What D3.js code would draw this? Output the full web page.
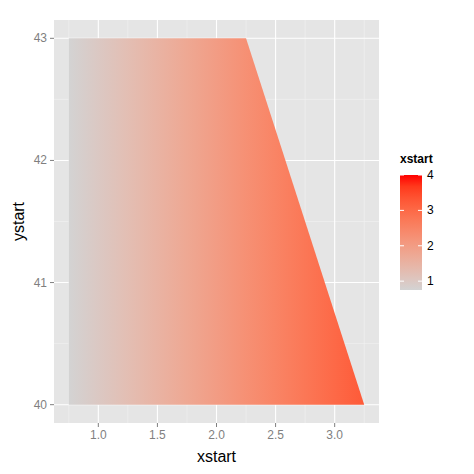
<!DOCTYPE html><html><head><script src="https://d3js.org/d3.v7.min.js"></script>
<style>body{margin:0;background:#fff}text{font-family:"Liberation Sans",Arial,sans-serif}</style></head><body>
<svg id="c" width="474" height="474"></svg>
<script>
const polyX=[0.75,2.25,3.25,0.75];
const polyY=[43,43,40,40];
const xTicks=[1.0,1.5,2.0,2.5,3.0];
const yTicks=[40,41,42,43];
const legendTicks=[1,2,3,4];
const colorDomain=[0.75,4];
const svg=d3.select("#c");
const L=54,R=379,T=20,B=423;
const x=d3.scaleLinear().domain([0.625,3.375]).range([L,R]);
const y=d3.scaleLinear().domain([39.85,43.15]).range([B,T]);
const col=d3.scaleLinear().domain(colorDomain).range(["#d3d3d3","#ff0000"]).interpolate(d3.interpolateLab);
svg.append("rect").attr("x",L).attr("y",T).attr("width",R-L).attr("height",B-T).attr("fill","#e5e5e5");
const minX=[0.75,1.25,1.75,2.25,2.75,3.25],minY=[40.5,41.5,42.5];
minX.forEach(v=>svg.append("line").attr("x1",x(v)).attr("x2",x(v)).attr("y1",T).attr("y2",B).attr("stroke","#f2f2f2").attr("stroke-width",0.6));
minY.forEach(v=>svg.append("line").attr("y1",y(v)).attr("y2",y(v)).attr("x1",L).attr("x2",R).attr("stroke","#f2f2f2").attr("stroke-width",0.6));
xTicks.forEach(v=>svg.append("line").attr("x1",x(v)).attr("x2",x(v)).attr("y1",T).attr("y2",B).attr("stroke","#fff").attr("stroke-width",1.1));
yTicks.forEach(v=>svg.append("line").attr("y1",y(v)).attr("y2",y(v)).attr("x1",L).attr("x2",R).attr("stroke","#fff").attr("stroke-width",1.1));
const defs=svg.append("defs");
const g=defs.append("linearGradient").attr("id","pg").attr("gradientUnits","userSpaceOnUse")
 .attr("x1",x(0.75)).attr("x2",x(3.25)).attr("y1",0).attr("y2",0);
d3.range(0,1.001,0.1).forEach(t=>g.append("stop").attr("offset",t).attr("stop-color",col(0.75+t*2.5)));
svg.append("path").attr("d",d3.line()(polyX.map((v,i)=>[x(v),y(polyY[i])]))+"Z").attr("fill","url(#pg)");
xTicks.forEach(v=>{svg.append("line").attr("x1",x(v)).attr("x2",x(v)).attr("y1",B).attr("y2",B+4).attr("stroke","#7f7f7f");
 svg.append("text").attr("x",x(v)).attr("y",B+16).attr("text-anchor","middle").attr("font-size",12).attr("fill","#7f7f7f").text(v.toFixed(1));});
yTicks.forEach(v=>{svg.append("line").attr("x1",L-4).attr("x2",L).attr("y1",y(v)).attr("y2",y(v)).attr("stroke","#7f7f7f");
 svg.append("text").attr("x",L-7).attr("y",y(v)+4).attr("text-anchor","end").attr("font-size",12).attr("fill","#7f7f7f").text(v);});
svg.append("text").attr("x",(L+R)/2).attr("y",462).attr("text-anchor","middle").attr("font-size",16).text("xstart");
svg.append("text").attr("transform",`translate(24,${(T+B)/2}) rotate(-90)`).attr("text-anchor","middle").attr("font-size",16).text("ystart");
// legend
const lx=400,lw=22,ly=d3.scaleLinear().domain(colorDomain).range([290,175]);
const lg=defs.append("linearGradient").attr("id","lg").attr("x1",0).attr("x2",0).attr("y1",1).attr("y2",0);
d3.range(0,1.001,0.1).forEach(t=>lg.append("stop").attr("offset",t).attr("stop-color",col(colorDomain[0]+t*(colorDomain[1]-colorDomain[0]))));
svg.append("text").attr("x",lx).attr("y",163).attr("font-size",12).attr("font-weight","bold").text("xstart");
svg.append("rect").attr("x",lx).attr("y",ly(4)).attr("width",lw).attr("height",ly(0.75)-ly(4)).attr("fill","url(#lg)");
legendTicks.forEach(v=>{
 svg.append("line").attr("x1",lx).attr("x2",lx+4).attr("y1",ly(v)).attr("y2",ly(v)).attr("stroke","#fff");
 svg.append("line").attr("x1",lx+lw-4).attr("x2",lx+lw).attr("y1",ly(v)).attr("y2",ly(v)).attr("stroke","#fff");
 svg.append("text").attr("x",lx+lw+5).attr("y",ly(v)+4).attr("font-size",12).text(v);});
</script></body></html>
